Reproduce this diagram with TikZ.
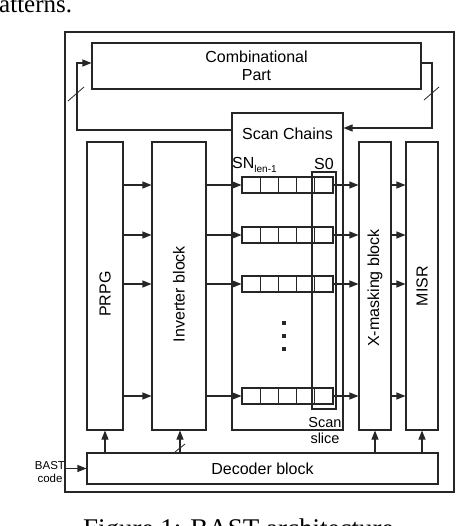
\documentclass[tikz,border=0pt]{standalone}
\usepackage{fontspec}
\setmainfont{Liberation Sans}
\newfontfamily\capfont{Liberation Serif}
\usetikzlibrary{arrows.meta}
\begin{document}
\begin{tikzpicture}[x=1pt,y=-1pt,
  ln/.style={draw=black!85,line width=1.1pt},
  blk/.style={ln,rectangle,inner sep=0pt,fill=none},
  cell/.style={ln,rectangle,inner sep=0pt,minimum width=18.2pt,minimum height=16pt},
  arr/.style={ln,-{Triangle[length=9pt,width=7pt]}},
  big/.style={font=\fontsize{16}{18}\selectfont},
  mid/.style={font=\fontsize{14.5}{16}\selectfont},
  small/.style={font=\fontsize{11.5}{13}\selectfont}]
\useasboundingbox (0,0) rectangle (456,526);
\clip (0,0) rectangle (456,526);
% surrounding text
\node[anchor=base west,inner sep=0pt,font=\capfont\fontsize{25}{27}\selectfont] (prev) at (-1,13) {atterns.};
\node[anchor=base west,inner sep=0pt,font=\capfont\fontsize{27}{29}\selectfont] (cap) at (83,537) {Figure 1: BAST architecture};
% outer frame
\node[blk,line width=1.5pt,minimum width=389pt,minimum height=460pt] (outer) at (259.5,262) {};
% blocks
\node[blk,big,align=center,minimum width=329pt,minimum height=46pt] (comb) at (256.5,66) {Combinational\\Part};
\node[blk,minimum width=111pt,minimum height=317pt] (scan) at (287.5,271.5) {};
\node[big,inner sep=0pt] (scant) at (287.5,134) {Scan Chains};
\node[blk,big,minimum width=36pt,minimum height=288pt] (prpg) at (105,286) {\rotatebox{90}{PRPG\hspace{16pt}}};
\node[blk,big,minimum width=54pt,minimum height=288pt] (inv) at (179,286) {\rotatebox{90}{Inverter block\hspace{16pt}}};
\node[blk,big,minimum width=32pt,minimum height=288pt] (xm) at (375,286) {\rotatebox{90}{X-masking block\hspace{4pt}}};
\node[blk,big,minimum width=32pt,minimum height=288pt] (misr) at (422,286) {\rotatebox{90}{MISR}};
\node[blk,big,minimum width=351pt,minimum height=31pt] (dec) at (262.5,468.5) {Decoder block};
\node[small,align=center,inner sep=0pt] (bast) at (50,472) {BAST\\code};
% scan cells
\foreach \r/\y in {1/185,2/235,3/284,4/396}{
  \foreach \i in {1,...,5}{
    \node[cell] (c\r\i) at ({242+(\i-0.5)*18.2},\y) {};
  }
}
\node[blk,minimum width=24pt,minimum height=237pt] (slice) at (324,290.5) {};
\node[big,anchor=west,inner sep=0pt] (sn) at (232,165) {SN\raisebox{-4.5pt}{\fontsize{10}{11}\selectfont len-1}};
\node[big,inner sep=0pt] (s0) at (324,164) {S0};
\node[mid,align=center,inner sep=0pt] (sl) at (325,431) {Scan\\slice};
% dots
\foreach \k/\yy in {1/323,2/336,3/349}{
  \fill[black!85] (282,\yy-2) rectangle ++(4,4);
}
% row arrows
\foreach \r in {1,2,3,4}{
  \draw[arr] (prpg.east |- c\r1.west) -- (inv.west |- c\r1.west);
  \draw[arr] (inv.east |- c\r1.west) -- (c\r1.west);
  \draw[arr] (c\r5.east) -- (xm.west |- c\r5.east);
  \draw[arr] (xm.east |- c\r5.east) -- (misr.west |- c\r5.east);
}
% decoder arrows
\draw[arr] (prpg.south |- dec.north) -- (prpg.south);
\draw[arr] ([xshift=1pt]inv.south |- dec.north) -- ([xshift=1pt]inv.south);
\draw[arr] (xm.south |- dec.north) -- (xm.south);
\draw[arr] (misr.south |- dec.north) -- (misr.south);
\draw[ln,line width=0.8pt] (175,452) -- (185,444);
\draw[arr] (bast.east |- dec.west) -- (dec.west);
% feedback loops
\coordinate (lb) at (77,130);
\coordinate (lt) at (77,63);
\coordinate (rt) at (432,63);
\coordinate (rb) at (432,128);
\draw[arr] (scan.west |- lb) -| (lt) -- (comb.west |- lt);
\draw[arr] (comb.east |- rt) -- (rt) -- (rb) -- (scan.east |- rb);
\draw[ln,line width=0.8pt] (68,101) -- (84,87);
\draw[ln,line width=0.8pt] (424,100) -- (439,87);
\end{tikzpicture}
\end{document}
